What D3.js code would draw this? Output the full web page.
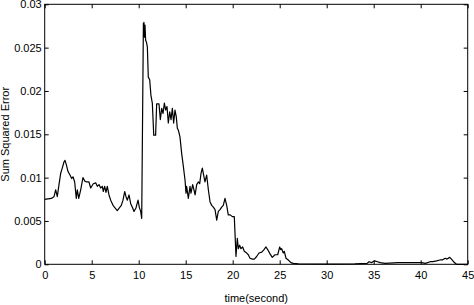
<!DOCTYPE html>
<html><head><meta charset="utf-8">
<script src="https://cdn.jsdelivr.net/npm/d3@7"></script>
<style>
html,body{margin:0;padding:0;background:#fff;}
svg{display:block;}
text{font-family:"Liberation Sans",Arial,Helvetica,sans-serif;fill:#000;}
</style></head><body>
<svg id="chart" width="474" height="305"></svg>
<script>
const time = [0,0.7,0.99,1.17,1.34,1.52,1.7,1.87,2.05,2.16,2.3,2.48,2.69,2.87,3.01,3.19,3.36,3.47,3.62,3.83,4.07,4.26,4.47,4.71,4.89,5.17,5.42,5.6,5.78,5.95,6.13,6.23,6.38,6.52,6.66,6.84,7.02,7.27,7.48,7.72,7.94,8.15,8.33,8.51,8.65,8.79,8.97,9.15,9.36,9.5,9.71,9.93,10.06,10.21,10.32,10.5,10.56,10.62,10.67,10.74,10.81,10.92,11.02,11.17,11.3,11.45,11.6,11.8,11.91,12.16,12.3,12.45,12.59,12.73,12.87,13.01,13.15,13.3,13.44,13.58,13.72,13.86,14.0,14.11,14.21,14.39,14.57,14.75,14.93,15.03,15.1,15.28,15.46,15.56,15.74,15.92,16.0,16.17,16.34,16.49,16.63,16.77,16.91,17.05,17.23,17.41,17.59,17.77,17.94,18.12,18.3,18.47,18.65,18.83,19.0,19.18,19.36,19.53,19.74,19.96,20.17,20.35,20.49,20.6,20.74,20.88,21.06,21.23,21.49,21.66,21.84,22.09,22.3,22.55,22.8,23.09,23.33,23.54,23.72,23.97,24.21,24.5,24.79,25.0,25.1,25.21,25.38,25.49,25.67,25.91,26.2,26.45,27,30,33,34.3,34.5,34.8,35.1,35.4,35.7,36.2,37.6,40.1,40.5,41.0,41.3,41.7,42.05,42.3,42.6,42.8,43.1,43.5,43.8,45];
const sse = [0.0075,0.0076,0.0078,0.0086,0.0078,0.0092,0.0105,0.0111,0.0118,0.0120,0.0115,0.0107,0.0103,0.0099,0.0101,0.0095,0.0076,0.0086,0.0076,0.0086,0.0100,0.0096,0.0095,0.0095,0.0088,0.0093,0.0094,0.0090,0.0092,0.0088,0.0090,0.0084,0.0090,0.0083,0.0090,0.0080,0.0074,0.0068,0.0065,0.0062,0.0065,0.0068,0.0074,0.0084,0.0078,0.0074,0.0080,0.0070,0.0065,0.0061,0.0065,0.0074,0.0066,0.0061,0.0053,0.0278,0.0279,0.0262,0.0276,0.0258,0.0257,0.0251,0.0216,0.0213,0.0195,0.0186,0.0149,0.0149,0.0185,0.0185,0.0167,0.0180,0.0174,0.0186,0.0178,0.0182,0.0163,0.0176,0.0167,0.0180,0.0163,0.0178,0.0170,0.0157,0.0155,0.0147,0.0128,0.0113,0.0097,0.0082,0.0090,0.0076,0.0090,0.0082,0.0092,0.0084,0.0080,0.0092,0.0095,0.0093,0.0105,0.0111,0.0103,0.0095,0.0103,0.0086,0.0072,0.0068,0.0066,0.0063,0.0051,0.0061,0.0063,0.0066,0.0068,0.0076,0.0068,0.0057,0.0057,0.0055,0.0055,0.0009,0.0030,0.0018,0.0022,0.0018,0.0020,0.0015,0.0013,0.0011,0.0007,0.0006,0.0006,0.0009,0.0013,0.0014,0.0017,0.0020,0.0017,0.0012,0.0008,0.0011,0.0011,0.0020,0.0017,0.0018,0.0013,0.0015,0.0007,0.0005,0.0002,0.0001,0.00005,0.00003,0.00005,0.0001,0.0003,0.0002,0.0004,0.0003,0.0002,0.0001,0.0002,0.0002,0.0001,0.0003,0.0003,0.0004,0.0005,0.0005,0.0007,0.0006,0.0008,0.0003,0.0000,0.0000];
const xTicks = [0,5,10,15,20,25,30,35,40,45];
const xTickLabels = ["0","5","10","15","20","25","30","35","40","45"];
const yTicks = [0,0.005,0.01,0.015,0.02,0.025,0.03];
const yTickLabels = ["0","0.005","0.01","0.015","0.02","0.025","0.03"];
const xTitle = "time(second)";
const yTitle = "Sum Squared Error";

const svg = d3.select("#chart");
const L = 44.7, R = 467.7, T = 4.3, B = 264.3;
const x = d3.scaleLinear().domain([0,45]).range([L,R]);
const y = d3.scaleLinear().domain([0,0.03]).range([B,T]);

function styleAxis(g){
  g.select(".domain").remove();
  g.selectAll(".tick line").attr("stroke","#000").attr("stroke-width",1);
  g.selectAll("text").attr("font-size",11).attr("font-family","Liberation Sans, Arial, sans-serif");
}

svg.append("g").attr("transform",`translate(0,${B})`)
  .call(d3.axisBottom(x).tickValues(xTicks).tickFormat((d,i)=>xTickLabels[i]).tickSize(-4).tickPadding(7))
  .call(styleAxis);
svg.append("g").attr("transform",`translate(0,${T})`)
  .call(d3.axisTop(x).tickValues(xTicks).tickFormat("").tickSize(-4))
  .call(styleAxis);
svg.append("g").attr("transform",`translate(${L},0)`)
  .call(d3.axisLeft(y).tickValues(yTicks).tickFormat((d,i)=>yTickLabels[i]).tickSize(-4).tickPadding(3))
  .call(styleAxis);
svg.append("g").attr("transform",`translate(${R},0)`)
  .call(d3.axisRight(y).tickValues(yTicks).tickFormat("").tickSize(-4))
  .call(styleAxis);

svg.append("rect").attr("x",L).attr("y",T).attr("width",R-L).attr("height",B-T)
  .attr("fill","none").attr("stroke","#000").attr("stroke-width",1);

const data = time.map((t,i)=>({t, v: sse[i]}));
svg.append("path").datum(data)
  .attr("fill","none").attr("stroke","#000").attr("stroke-width",1.2).attr("stroke-linejoin","round")
  .attr("d", d3.line().x(d=>x(d.t)).y(d=>y(d.v)));

svg.append("text").attr("x",(L+R)/2).attr("y",302).attr("text-anchor","middle").attr("font-size",11).text(xTitle);
svg.append("text").attr("transform",`translate(9,${(T+B)/2}) rotate(-90)`).attr("text-anchor","middle").attr("font-size",11).text(yTitle);
</script>
</body></html>
